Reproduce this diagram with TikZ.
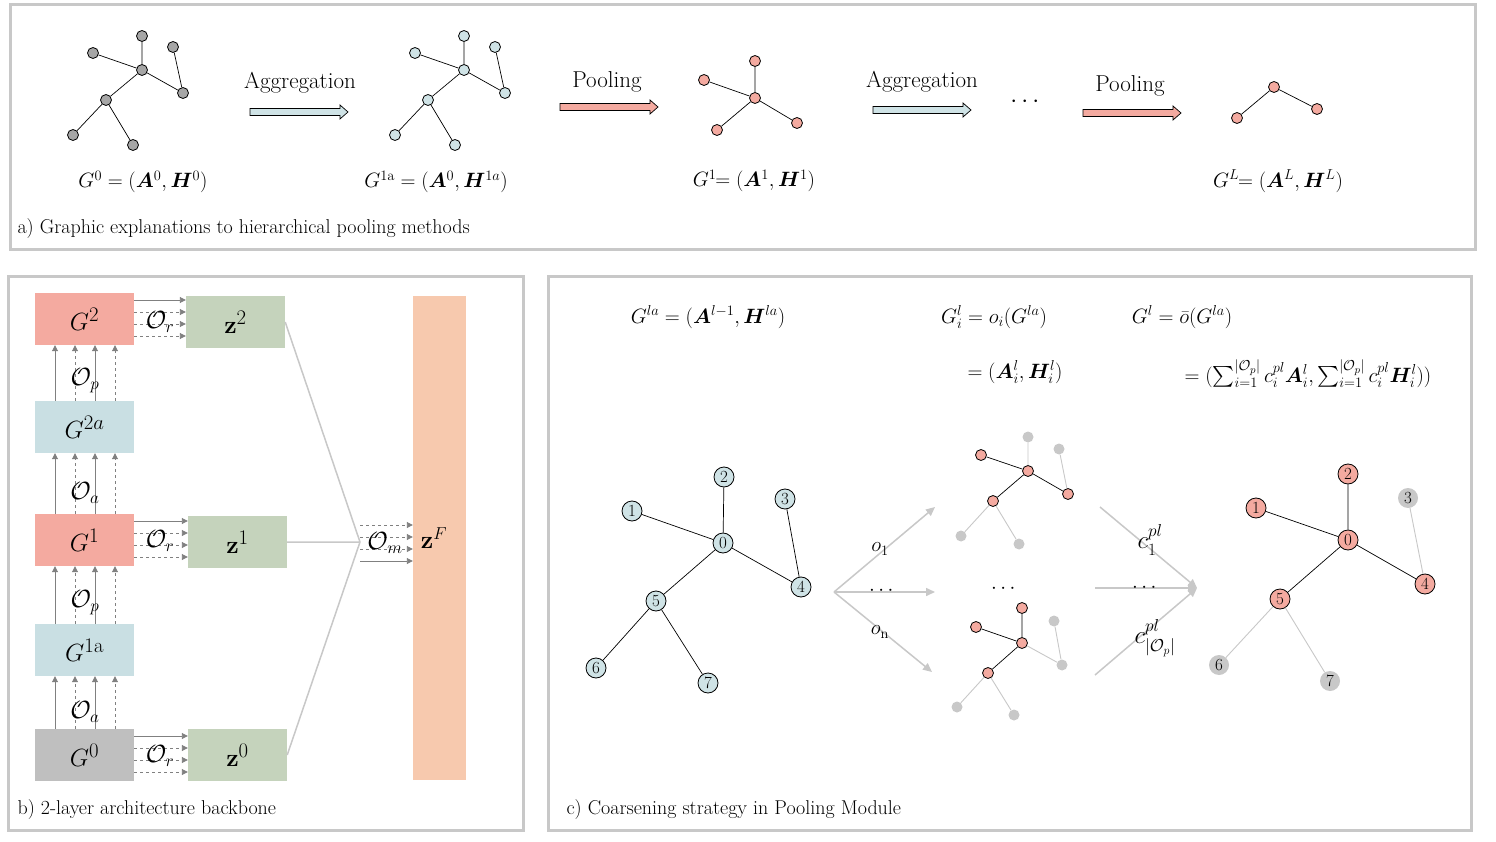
\documentclass[tikz,border=0pt]{standalone}
\usepackage{amsmath,bm}
\usetikzlibrary{arrows.meta}
\definecolor{gnode}{HTML}{A6A6A6}
\definecolor{bnode}{HTML}{CFE3E6}
\definecolor{rnode}{HTML}{F4AAA0}
\definecolor{gbox}{HTML}{BFBFBF}
\definecolor{bbox}{HTML}{C9DFE3}
\definecolor{zbox}{HTML}{C5D3BC}
\definecolor{fbar}{HTML}{F7C9AE}
\definecolor{lgray}{HTML}{C8C8C8}
\begin{document}
\begin{tikzpicture}[x=1pt,y=-1pt,
 panel/.style={draw=lgray,line width=3pt},
 sn/.style={circle,draw=black,line width=0.8pt,inner sep=0pt,minimum size=11pt},
 gn/.style={sn,fill=gnode},
 bn/.style={sn,fill=bnode},
 rn/.style={sn,fill=rnode},
 fn/.style={circle,fill=lgray,inner sep=0pt,minimum size=11pt},
 ln/.style={circle,draw=black,line width=0.8pt,inner sep=0pt,minimum size=20pt,font=\fontsize{17}{17}\selectfont},
 lgn/.style={circle,fill=lgray,inner sep=0pt,minimum size=20pt,font=\fontsize{17}{17}\selectfont},
 ed/.style={line width=0.7pt},
 fe/.style={lgray,line width=0.9pt},
 box/.style={minimum width=99pt,minimum height=52pt,inner sep=0pt,font=\fontsize{28}{28}\selectfont},
 txt/.style={font=\fontsize{23}{23}\selectfont},
 captxt/.style={font=\fontsize{20}{20}\selectfont,anchor=west},
 fm/.style={font=\fontsize{22}{22}\selectfont},
 om/.style={font=\fontsize{26}{26}\selectfont},
 va/.style={gray,line width=0.9pt,-{Triangle[length=6pt,width=6pt]}},
 ca/.style={lgray,line width=1.5pt,-{Triangle[length=9pt,width=8pt]}}
]
\useasboundingbox (0,0) rectangle (1496,842);
\fill[white] (0,0) rectangle (1496,842);
\draw[panel] (10,5) rectangle (1475,250);
\draw[panel] (8,277) rectangle (523,830);
\draw[panel] (548,277) rectangle (1471,830);

% panel a graphs
\foreach \p/\s/\o in {a/gn/0,b/bn/322}{
 \begin{scope}[xshift=\o pt]
 \node[\s] (\p1) at (93,53) {};
 \node[\s] (\p2) at (142,36) {};
 \node[\s] (\p3) at (173,47) {};
 \node[\s] (\p0) at (142,70) {};
 \node[\s] (\p4) at (183,93) {};
 \node[\s] (\p5) at (106,100) {};
 \node[\s] (\p6) at (73,135) {};
 \node[\s] (\p7) at (133,145) {};
 \draw[ed] (\p1)--(\p0) (\p2)--(\p0) (\p0)--(\p4) (\p3)--(\p4) (\p0)--(\p5) (\p5)--(\p6) (\p5)--(\p7);
 \end{scope}}
\node[rn] (c1) at (704,80) {};
\node[rn] (c2) at (755,61) {};
\node[rn] (c0) at (755,98) {};
\node[rn] (c4) at (797,123) {};
\node[rn] (c5) at (717,130) {};
\draw[ed] (c1)--(c0) (c2)--(c0) (c0)--(c4) (c0)--(c5);
\node[rn] (d1) at (1237,118) {};
\node[rn] (d0) at (1274,87) {};
\node[rn] (d2) at (1317,109) {};
\draw[ed] (d1)--(d0)--(d2);

% block arrows
\foreach \x/\y/\c in {250/112/bnode,560/107/rnode,873/110/bnode,1083/113/rnode}{
 \draw[fill=\c,line width=0.7pt] (\x,\y-3.5)--(\x+90,\y-3.5)--(\x+90,\y-7)--(\x+98,\y)--(\x+90,\y+7)--(\x+90,\y+3.5)--(\x,\y+3.5)--cycle;}
\node[txt] (t1) at (300,83) {Aggregation};
\node[txt] (t2) at (607,82) {Pooling};
\node[txt] (t3) at (922,82) {Aggregation};
\node[txt] (t4) at (1027,102) {$\cdots$};
\node[txt] (t5) at (1130,86) {Pooling};
\node[fm] (f1) at (143,182) {$G^0=(\bm{A}^0,\bm{H}^0)$};
\node[fm] (f2) at (436,182) {$G^{1\mathrm{a}}=(\bm{A}^0,\bm{H}^{1a})$};
\node[fm] (f3) at (754,181) {$G^1\!\!=(\bm{A}^1,\bm{H}^1)$};
\node[fm] (f4) at (1278,181) {$G^L\!\!=(\bm{A}^L,\bm{H}^L)$};
\node[captxt] (ca) at (14,229) {a) Graphic explanations to hierarchical pooling methods};

% panel b
\node[box,fill=rnode] (G2) at (84.5,319) {$G^2$};
\node[box,fill=bbox] (G2a) at (84.5,427) {$G^{2a}$};
\node[box,fill=rnode] (G1) at (84.5,540) {$G^1$};
\node[box,fill=bbox] (G1a) at (84.5,650) {$G^{1\mathrm{a}}$};
\node[box,fill=gbox] (G0) at (84.5,755) {$G^0$};
\node[box,fill=zbox] (z2) at (235.5,322) {$\mathbf{z}^2$};
\node[box,fill=zbox] (z1) at (237.5,542) {$\mathbf{z}^1$};
\node[box,fill=zbox] (z0) at (237.5,755) {$\mathbf{z}^0$};
\node[fill=fbar,minimum width=53pt,minimum height=484pt,inner sep=0pt] (zF) at (439.5,538) {};
\node[om] (zFl) at (434,538) {$\mathbf{z}^F$};
\foreach \lo/\hi in {G0/G1a,G1a/G1,G1/G2a,G2a/G2}{
 \foreach \dx/\st in {-29.5/solid,-9.5/dashed,10.5/solid,30.5/dashed}{
  \draw[va,\st] ([xshift=\dx pt]\lo.north) -- ([xshift=\dx pt]\hi.south);}}
\foreach \a/\b in {G2/z2,G1/z1,G0/z0}{
 \foreach \dy/\st in {-19/solid,-7/dashed,5/dashed,17/dashed}{
  \draw[va,\st] ([yshift=-\dy pt]\a.east) -- ([yshift=-\dy pt]\a.east -| \b.west);}}
\node[om] (or2) at (160,322) {$\mathcal{O}_r$};
\node[om] (or1) at (160,541) {$\mathcal{O}_r$};
\node[om] (or0) at (160,756) {$\mathcal{O}_r$};
\node[om] (op2) at (85,381) {$\mathcal{O}_p$};
\node[om] (oa2) at (85,493) {$\mathcal{O}_a$};
\node[om] (op1) at (85,603) {$\mathcal{O}_p$};
\node[om] (oa1) at (85,712) {$\mathcal{O}_a$};
\coordinate (m) at (360,542);
\draw[lgray,line width=1.5pt] (z2.east)--(m) (z1.east)--(m) (z0.east)--(m);
\foreach \dy/\st in {-19/solid,-7/dashed,5/dashed,17/dashed}{
 \draw[va,\st] ([yshift=\dy pt]m) -- ([yshift=\dy pt]m -| zF.west);}
\node[om] (omm) at (385,543) {$\mathcal{O}_m$};
\node[captxt] (cb) at (14,810) {b) 2-layer architecture backbone};

% panel c formulas
\node[fm] (e1) at (708,317) {$G^{la}=(\bm{A}^{l-1},\bm{H}^{la})$};
\node[fm] (e2) at (994,317) {$G_i^l=o_i(G^{la})$};
\node[fm] (e3) at (1015,372) {$=(\bm{A}_i^l,\bm{H}_i^l)$};
\node[fm] (e4) at (1182,317) {$G^l=\bar{o}(G^{la})$};
\node[fm] (e5) at (1308,374) {$=(\sum_{i=1}^{|\mathcal{O}_p|}c_i^{pl}\bm{A}_i^l,\sum_{i=1}^{|\mathcal{O}_p|}c_i^{pl}\bm{H}_i^l))$};

% big graph
\node[ln,fill=bnode] (n0) at (723,543) {0};
\node[ln,fill=bnode] (n1) at (632,511) {1};
\node[ln,fill=bnode] (n2) at (724,477) {2};
\node[ln,fill=bnode] (n3) at (785,499) {3};
\node[ln,fill=bnode] (n4) at (801,587) {4};
\node[ln,fill=bnode] (n5) at (656,601) {5};
\node[ln,fill=bnode] (n6) at (596,668) {6};
\node[ln,fill=bnode] (n7) at (708,683) {7};
\draw[ed] (n1)--(n0) (n2)--(n0) (n0)--(n4) (n3)--(n4) (n0)--(n5) (n5)--(n6) (n5)--(n7);

\coordinate (s) at (834,592);
\coordinate (e1a) at (935,507);
\coordinate (e2a) at (935,592);
\coordinate (e3a) at (932,672);
\draw[ca] (s)--(e1a); \draw[ca] (s)--(e2a); \draw[ca] (s)--(e3a);
\node[fm] (lo1) at (880,549) {$o_1$};
\node[fm] (lo2) at (883,591) {$\cdots$};
\node[fm] (lo3) at (880,632) {$o_{\mathrm{n}}$};

% top small graph
\node[fn] (u2) at (1028,437) {};
\node[fn] (u3) at (1059,449) {};
\node[fn] (u6) at (961,536) {};
\node[fn] (u7) at (1019,544) {};
\node[rn] (u1) at (981,455) {};
\node[rn] (u0) at (1028,471) {};
\node[rn] (u5) at (993,501) {};
\node[rn] (u4) at (1068,494) {};
\draw[fe] (u2)--(u0) (u3)--(u4) (u5)--(u6) (u5)--(u7);
\draw[ed] (u1)--(u0) (u0)--(u4) (u0)--(u5);
% bottom small graph
\node[fn] (v3) at (1054,621) {};
\node[fn] (v4) at (1062,665) {};
\node[fn] (v6) at (957,707) {};
\node[fn] (v7) at (1014,715) {};
\node[rn] (v2) at (1022,608) {};
\node[rn] (v1) at (976,627) {};
\node[rn] (v0) at (1022,643) {};
\node[rn] (v5) at (988,673) {};
\draw[fe] (v0)--(v4) (v3)--(v4) (v5)--(v6) (v5)--(v7);
\draw[ed] (v2)--(v0) (v1)--(v0) (v0)--(v5);
\node[fm] (dd) at (1005,589) {$\cdots$};

\coordinate (r1) at (1100,507);
\coordinate (r2) at (1095,588);
\coordinate (r3) at (1095,675);
\coordinate (t) at (1197,588);
\draw[ca] (r1)--(t); \draw[ca] (r2)--(t); \draw[ca] (r3)--(t);
\node[om] (k1) at (1150,540) {$c_1^{pl}$};
\node[fm] (k2) at (1146,588) {$\cdots$};
\node[om] (k3) at (1155,638) {$c_{|\mathcal{O}_p|}^{pl}$};

% result graph
\node[lgn] (w3) at (1408,498) {3};
\node[lgn] (w6) at (1219,665) {6};
\node[lgn] (w7) at (1330,681) {7};
\node[ln,fill=rnode] (w0) at (1348,540) {0};
\node[ln,fill=rnode] (w1) at (1256,508) {1};
\node[ln,fill=rnode] (w2) at (1348,474) {2};
\node[ln,fill=rnode] (w4) at (1425,584) {4};
\node[ln,fill=rnode] (w5) at (1280,599) {5};
\draw[fe] (w3)--(w4) (w5)--(w6) (w5)--(w7);
\draw[ed] (w1)--(w0) (w2)--(w0) (w0)--(w4) (w0)--(w5);
\node[captxt] (cc) at (563,810) {c) Coarsening strategy in Pooling Module};
\end{tikzpicture}
\end{document}
